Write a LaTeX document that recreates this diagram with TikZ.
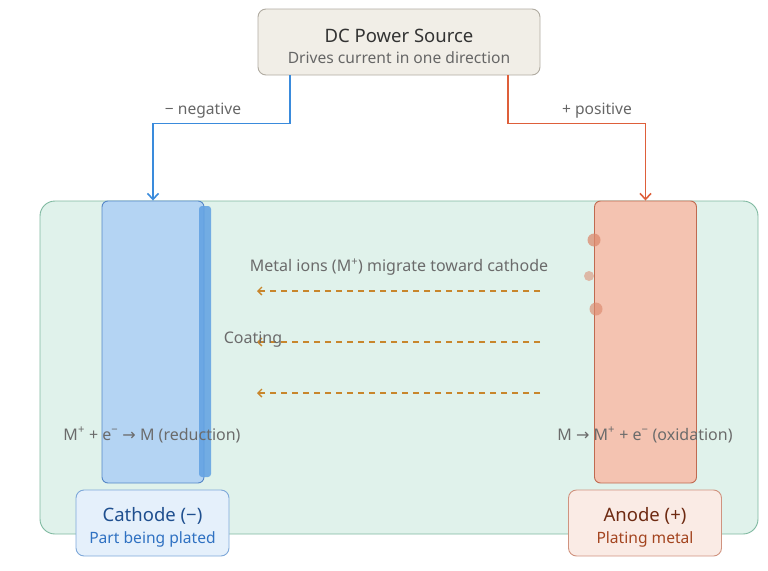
\documentclass[tikz,border=0pt]{standalone}
\usepackage{fontspec}
\setmainfont{Noto Sans}
\newfontfamily\arrowfont{DejaVu Sans}
\usetikzlibrary{arrows.meta}

% couleurs
\definecolor{negc}{HTML}{3A8BDC}
\definecolor{posc}{HTML}{DE5F3A}
\definecolor{powf}{HTML}{F1EEE7}
\definecolor{powd}{HTML}{B0ABA1}
\definecolor{bathf}{HTML}{E0F2EB}
\definecolor{bathd}{HTML}{7FB9A0}
\definecolor{cathf}{HTML}{B4D4F3}
\definecolor{cathd}{HTML}{5688C8}
\definecolor{coatc}{HTML}{5FA0E2}
\definecolor{anof}{HTML}{F4C3B1}
\definecolor{anod}{HTML}{C06A50}
\definecolor{dotc}{HTML}{DC8A6E}
\definecolor{ionc}{HTML}{C8862C}
\definecolor{notec}{HTML}{6B6B6B}
\definecolor{titc}{HTML}{333333}
\definecolor{subc}{HTML}{666666}
\definecolor{cathlabf}{HTML}{E5F0FB}
\definecolor{cathlabd}{HTML}{7EA8D9}
\definecolor{cathtit}{HTML}{1F4F8F}
\definecolor{cathsub}{HTML}{2F71C2}
\definecolor{anolabf}{HTML}{FAEBE5}
\definecolor{anolabd}{HTML}{D0937F}
\definecolor{anotit}{HTML}{6E2A12}
\definecolor{anosub}{HTML}{A3441F}

\newcommand{\sps}[1]{\textsuperscript{#1}}
\newcommand{\rarr}{{\arrowfont →}}

\begin{document}
\begin{tikzpicture}[x=1pt,y=-1pt,
    box/.style={draw, line width=0.9pt, rounded corners=8pt, inner sep=0pt, minimum width=153pt, minimum height=66pt},
    electrode/.style={draw, line width=0.9pt, rounded corners=6pt, inner sep=0pt, minimum width=102pt, minimum height=282pt},
    wire/.style={line width=1.6pt, -{Straight Barb[length=6pt,width=11pt]}},
    ionflow/.style={draw=ionc, line width=1.4pt, dash pattern=on 6pt off 5pt, -{Straight Barb[length=4pt,width=8pt]}},
    big/.style={font=\fontsize{18.5}{22}\selectfont},
    small/.style={font=\fontsize{15.6}{18}\selectfont},
    note/.style={text=notec, font=\fontsize{16}{19}\selectfont}]
    \useasboundingbox (0,0) rectangle (768,570);

    % bain
    \draw[draw=bathd, fill=bathf, line width=0.9pt, rounded corners=15pt] (40,201) rectangle (758,534);

    % source
    \node[box, draw=powd, fill=powf, minimum width=282pt] (power) at (399,42) {};
    \node[big, text=titc] (powtitle) at (399,35.5) {DC Power Source};
    \node[small, text=subc] (powsub) at (399,58) {Drives current in one direction};

    % electrodes
    \node[electrode, draw=cathd, fill=cathf] (cathode) at (153,342) {};
    \node[electrode, draw=anod, fill=anof] (anode) at (645.5,342) {};
    \fill[coatc, opacity=0.85, rounded corners=3pt] (199,206) rectangle (211,477);

    % fils
    \coordinate (negout) at ([xshift=-109pt]power.south);
    \coordinate (posout) at ([xshift=109pt]power.south);
    \draw[wire, draw=negc] (negout) |- ([yshift=77pt]cathode.north) -- (cathode.north);
    \draw[wire, draw=posc] (posout) |- ([yshift=77pt]anode.north) -- (anode.north);
    \node[small, text=subc] (neglab) at (203,111) {− negative};
    \node[small, text=subc] (poslab) at (597,111) {+ positive};

    % bulles
    \fill[dotc, opacity=0.75] (594,240) circle (6.5);
    \fill[dotc, opacity=0.55] (589,276) circle (5);
    \fill[dotc, opacity=0.65] (596,309) circle (6.5);

    % ions
    \node[note] (ionlab) at (399,267) {Metal ions (M\sps{+}) migrate toward cathode};
    \foreach \y in {291,342,393} {
        \coordinate (src\y) at (540,\y);
        \coordinate (dst\y) at (257,\y);
        \draw[ionflow] (src\y) -- (dst\y);
    }
    \node[note] (coatlab) at (253,340) {Coating};

    % reactions
    \node[note] (redlab) at (152,435) {M\sps{+} + e\sps{−} \rarr{} M (reduction)};
    \node[note] (oxlab) at (645,435) {M \rarr{} M\sps{+} + e\sps{−} (oxidation)};

    % etiquettes
    \node[box, draw=cathlabd, fill=cathlabf] (cathbox) at (152.5,523) {};
    \node[big, text=cathtit] (cathtitle) at (152.5,516) {Cathode (−)};
    \node[small, text=cathsub] (cathsubt) at (152.5,539) {Part being plated};
    \node[box, draw=anolabd, fill=anolabf] (anobox) at (645,523) {};
    \node[big, text=anotit] (anotitle) at (645,516) {Anode (+)};
    \node[small, text=anosub] (anosubt) at (645,539) {Plating metal};
\end{tikzpicture}
\end{document}
